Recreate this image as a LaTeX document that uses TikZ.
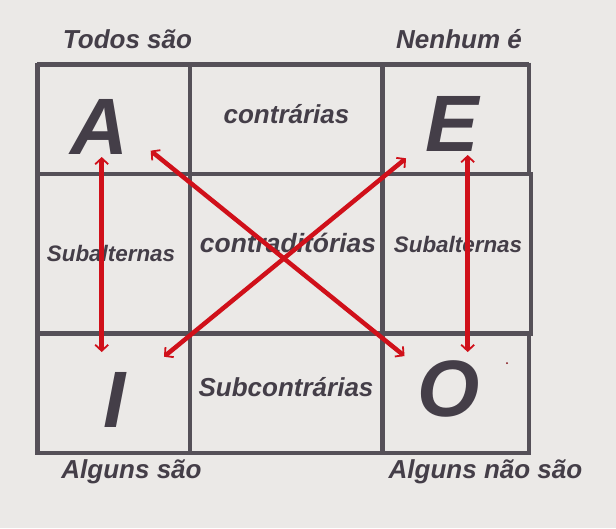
\documentclass[tikz,border=0pt]{standalone}
\usepackage{fontspec}
\setmainfont{Liberation Sans}
\usetikzlibrary{arrows.meta}
\definecolor{bg}{RGB}{235,233,231}
\definecolor{gridc}{RGB}{85,80,88}
\definecolor{txt}{RGB}{68,62,72}
\definecolor{arr}{RGB}{208,16,26}
\tikzset{
  grid line/.style={draw=gridc, line width=4.5pt},
  lbl/.style={inner sep=0pt, anchor=base, text=txt, font=\fontsize{26}{28}\selectfont\bfseries\itshape},
  mid/.style={inner sep=0pt, anchor=base, text=txt, font=\fontsize{#1}{#1}\selectfont\bfseries\itshape},
  big/.style={inner sep=0pt, anchor=base, text=txt, font=\fontsize{80}{80}\selectfont\bfseries\itshape},
  rel/.style={draw=arr, line width=4.5pt,
    arrows={Straight Barb[line width=1.8pt,length=6pt,width=13pt]-Straight Barb[line width=1.8pt,length=6pt,width=13pt]}}
}
\begin{document}
\begin{tikzpicture}[x=1pt,y=-1pt]
\fill[bg] (0,0) rectangle (616,528);
\useasboundingbox (0,0) rectangle (616,528);
% grid
\draw[grid line] (37,64.5) -- (529,64.5);
\draw[grid line] (37,174) -- (533,174);
\draw[grid line] (37,333.5) -- (533,333.5);
\draw[grid line] (37,453) -- (529,453);
\draw[grid line] (37.5,62.5) -- (37.5,455);
\draw[grid line] (190,62.5) -- (190,455);
\draw[grid line] (382.5,62.5) -- (382.5,455);
\draw[grid line] (529,62.5) -- (529,176);
\draw[grid line] (531,172) -- (531,335.5);
\draw[grid line] (529,331.5) -- (529,455);
% labels
\node[lbl] (todos) at (127.5,48) {Todos são};
\node[lbl] (nenhum) at (459,48) {Nenhum é};
\node[lbl] (alguns) at (131.5,478) {Alguns são};
\node[lbl] (algunsnao) at (485.5,478) {Alguns não são};
\node[mid=26] (contr) at (286.5,123.3) {contrárias};
\node[mid=26.4] (contrad) at (288,252.7) {contraditórias};
\node[mid=26] (subc) at (286,396) {Subcontrárias};
\node[mid=22.4] (subL) at (111,261) {Subalternas};
\node[mid=22.4] (subR) at (458,252.7) {Subalternas};
% big letters
\node[big] (A) at (99.5,154) {A};
\node[big] (E) at (452.5,151) {E};
\node[big] (I) at (115,427) {I};
\node[big] (O) at (448.5,416) {O};
% arrow ends
\coordinate (aS) at (101.7,157);
\coordinate (iN) at (101.7,352);
\coordinate (eS) at (467.7,155);
\coordinate (oN) at (467.7,352);
\coordinate (aSE) at (150.7,150.7);
\coordinate (oNW) at (404.5,356);
\coordinate (eSW) at (406,158.3);
\coordinate (iNE) at (164,356.7);
\draw[rel] (aS) -- (iN);
\draw[rel] (eS) -- (oN);
\draw[rel] (aSE) -- (oNW);
\draw[rel] (eSW) -- (iNE);
\fill[arr!60!black] (507,363) circle (1pt);
\end{tikzpicture}
\end{document}
